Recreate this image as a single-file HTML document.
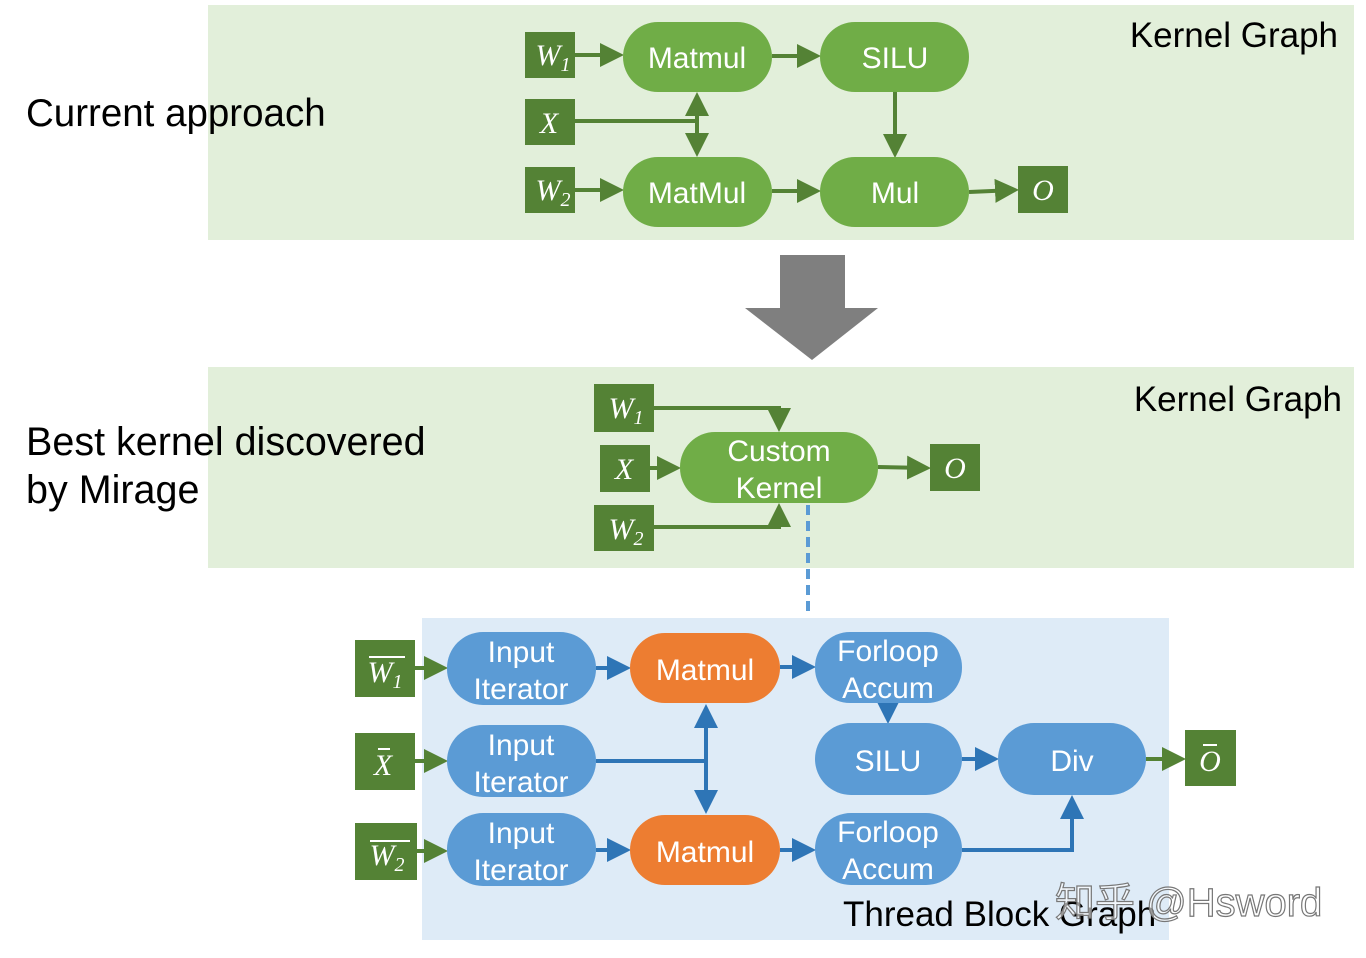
<!DOCTYPE html>
<html><head><meta charset="utf-8"><style>
html,body{margin:0;padding:0;background:#fff;}
svg{display:block;font-family:"Liberation Sans","Noto Sans CJK SC",sans-serif;}
.w{fill:#fff;font-size:30px;text-anchor:middle;}
.m{fill:#fff;font-family:"Liberation Serif",serif;font-style:italic;font-size:30px;text-anchor:middle;}
</style></head><body>
<svg width="1366" height="958" viewBox="0 0 1366 958">
<defs>
<marker id="ag" markerWidth="6" markerHeight="6" refX="5" refY="3" orient="auto" markerUnits="strokeWidth"><path d="M0,0L6,3L0,6z" fill="#548235"/></marker>
<marker id="ab" markerWidth="6" markerHeight="6" refX="5" refY="3" orient="auto" markerUnits="strokeWidth"><path d="M0,0L6,3L0,6z" fill="#2e75b6"/></marker>
</defs>
<rect x="208" y="5" width="1146" height="235" fill="#e2efda"/>
<text x="26" y="126" font-size="38.5" fill="#000">Current approach</text>
<text x="1338" y="47" font-size="35" text-anchor="end" fill="#000">Kernel Graph</text>
<g stroke="#548235" stroke-width="4" fill="none">
<line x1="575" y1="55" x2="620" y2="55" marker-end="url(#ag)"/>
<line x1="575" y1="190" x2="620" y2="190" marker-end="url(#ag)"/>
<line x1="575" y1="121" x2="697" y2="121"/>
<line x1="697" y1="121" x2="697" y2="96" marker-end="url(#ag)"/>
<line x1="697" y1="121" x2="697" y2="153" marker-end="url(#ag)"/>
<line x1="772" y1="56" x2="817" y2="56" marker-end="url(#ag)"/>
<line x1="772" y1="191" x2="817" y2="191" marker-end="url(#ag)"/>
<line x1="895" y1="92" x2="895" y2="154" marker-end="url(#ag)"/>
<line x1="969" y1="192" x2="1015" y2="190" marker-end="url(#ag)"/>
</g>
<rect x="525" y="32" width="50" height="46" fill="#548235"/><text class="m" x="553" y="65">W<tspan font-size="20" dy="6">1</tspan></text>
<rect x="525" y="99" width="50" height="46" fill="#548235"/><text class="m" x="549" y="133">X</text>
<rect x="525" y="167" width="50" height="46" fill="#548235"/><text class="m" x="553" y="200">W<tspan font-size="20" dy="6">2</tspan></text>
<rect x="1018" y="166" width="50" height="47" fill="#548235"/><text class="m" x="1043" y="200">O</text>
<rect x="623" y="22" width="149" height="70" rx="35" fill="#70ad47"/><text class="w" x="697" y="68">Matmul</text>
<rect x="820" y="22" width="149" height="70" rx="35" fill="#70ad47"/><text class="w" x="895" y="68">SILU</text>
<rect x="623" y="157" width="149" height="70" rx="35" fill="#70ad47"/><text class="w" x="697" y="203">MatMul</text>
<rect x="820" y="157" width="149" height="70" rx="35" fill="#70ad47"/><text class="w" x="895" y="203">Mul</text>
<path d="M780,255H845V308H878L812,360L745,308H780z" fill="#7f7f7f"/>
<rect x="208" y="367" width="1146" height="201" fill="#e2efda"/>
<text x="26" y="455" font-size="39.5" fill="#000">Best kernel discovered</text>
<text x="26" y="503" font-size="39.5" fill="#000">by Mirage</text>
<text x="1342" y="411" font-size="35" text-anchor="end" fill="#000">Kernel Graph</text>
<g stroke="#548235" stroke-width="4" fill="none">
<polyline points="654,408 779,408 779,428" marker-end="url(#ag)"/>
<polyline points="654,527 779,527 779,507" marker-end="url(#ag)"/>
<line x1="650" y1="468" x2="677" y2="468" marker-end="url(#ag)"/>
<line x1="878" y1="467" x2="927" y2="468" marker-end="url(#ag)"/>
</g>
<rect x="594" y="384" width="60" height="48" fill="#548235"/><text class="m" x="626" y="418">W<tspan font-size="20" dy="6">1</tspan></text>
<rect x="600" y="445" width="50" height="47" fill="#548235"/><text class="m" x="624" y="479">X</text>
<rect x="594" y="505" width="60" height="46" fill="#548235"/><text class="m" x="626" y="539">W<tspan font-size="20" dy="6">2</tspan></text>
<rect x="930" y="444" width="50" height="47" fill="#548235"/><text class="m" x="955" y="478">O</text>
<rect x="680" y="432" width="198" height="71" rx="35" fill="#70ad47"/>
<text class="w" x="779" y="461" font-size="29">Custom</text><text class="w" x="779" y="498" font-size="29">Kernel</text>
<line x1="808" y1="505" x2="808" y2="617" stroke="#5b9bd5" stroke-width="4" stroke-dasharray="10,6"/>
<rect x="422" y="618" width="747" height="322" fill="#deebf7"/>
<g stroke="#548235" stroke-width="4" fill="none">
<line x1="415" y1="668" x2="444" y2="668" marker-end="url(#ag)"/>
<line x1="415" y1="761" x2="444" y2="761" marker-end="url(#ag)"/>
<line x1="417" y1="851" x2="444" y2="851" marker-end="url(#ag)"/>
<line x1="1146" y1="759" x2="1182" y2="759" marker-end="url(#ag)"/>
</g>
<g stroke="#2e75b6" stroke-width="4" fill="none">
<line x1="596" y1="668" x2="627" y2="668" marker-end="url(#ab)"/>
<line x1="596" y1="850" x2="627" y2="850" marker-end="url(#ab)"/>
<line x1="596" y1="761" x2="706" y2="761"/>
<line x1="706" y1="761" x2="706" y2="708" marker-end="url(#ab)"/>
<line x1="706" y1="761" x2="706" y2="810" marker-end="url(#ab)"/>
<line x1="780" y1="667" x2="812" y2="667" marker-end="url(#ab)"/>
<line x1="780" y1="850" x2="812" y2="850" marker-end="url(#ab)"/>
<line x1="888" y1="703" x2="888" y2="720" marker-end="url(#ab)"/>
<line x1="962" y1="759" x2="995" y2="759" marker-end="url(#ab)"/>
<polyline points="962,850 1072,850 1072,799" marker-end="url(#ab)"/>
</g>
<rect x="355" y="640" width="60" height="57" fill="#548235"/><line x1="369" y1="657" x2="405" y2="657" stroke="#fff" stroke-width="2"/><text class="m" x="385" y="682">W<tspan font-size="20" dy="6">1</tspan></text>
<rect x="355" y="733" width="60" height="57" fill="#548235"/><line x1="378" y1="749" x2="390" y2="749" stroke="#fff" stroke-width="2"/><text class="m" x="383" y="775">X</text>
<rect x="355" y="823" width="62" height="57" fill="#548235"/><line x1="370" y1="841" x2="410" y2="841" stroke="#fff" stroke-width="2"/><text class="m" x="387" y="865">W<tspan font-size="20" dy="6">2</tspan></text>
<rect x="1185" y="730" width="51" height="56" fill="#548235"/><line x1="1203" y1="745" x2="1217" y2="745" stroke="#fff" stroke-width="2"/><text class="m" x="1210" y="771">O</text>
<g fill="#5b9bd5">
<rect x="447" y="632" width="149" height="73" rx="36"/>
<rect x="447" y="725" width="149" height="72" rx="36"/>
<rect x="447" y="813" width="149" height="73" rx="36"/>
<rect x="815" y="632" width="147" height="71" rx="35"/>
<rect x="815" y="723" width="147" height="72" rx="36"/>
<rect x="815" y="813" width="147" height="72" rx="36"/>
<rect x="998" y="723" width="148" height="72" rx="36"/>
</g>
<rect x="630" y="633" width="150" height="70" rx="35" fill="#ed7d31"/>
<rect x="630" y="815" width="150" height="70" rx="35" fill="#ed7d31"/>
<text class="w" x="521" y="662">Input</text><text class="w" x="521" y="699">Iterator</text>
<text class="w" x="521" y="755">Input</text><text class="w" x="521" y="792">Iterator</text>
<text class="w" x="521" y="843">Input</text><text class="w" x="521" y="880">Iterator</text>
<text class="w" x="705" y="680">Matmul</text><text class="w" x="705" y="862">Matmul</text>
<text class="w" x="888" y="661">Forloop</text><text class="w" x="888" y="698">Accum</text>
<text class="w" x="888" y="771">SILU</text>
<text class="w" x="1072" y="771">Div</text>
<text class="w" x="888" y="842">Forloop</text><text class="w" x="888" y="879">Accum</text>
<text x="843" y="926" font-size="35" fill="#000">Thread Block Graph</text>
<text x="1055" y="916" font-size="40" fill="#fff" fill-opacity="0.6" stroke="#777" stroke-width="1.2">知乎 @Hsword</text>
</svg>
</body></html>
